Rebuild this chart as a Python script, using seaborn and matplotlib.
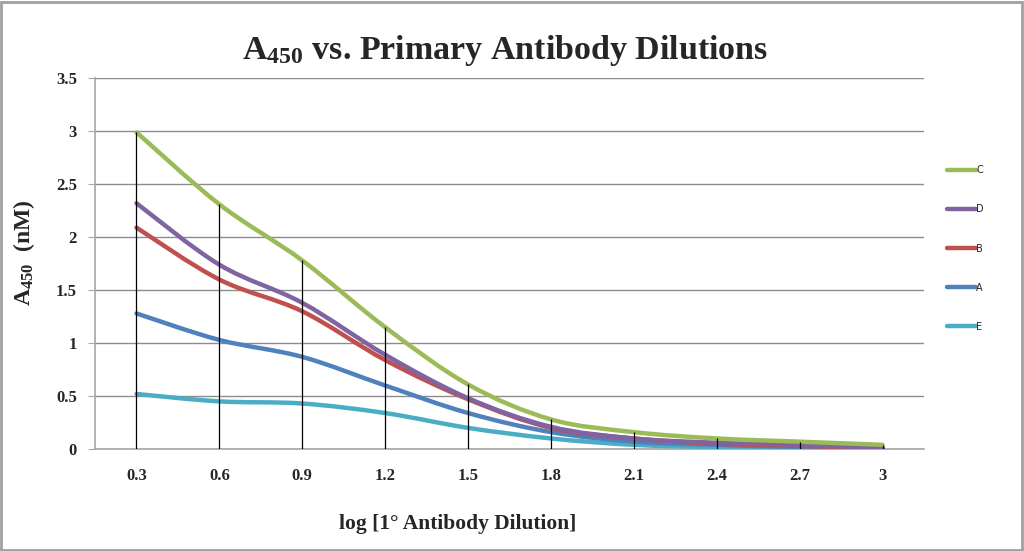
import matplotlib
matplotlib.use('Agg')
import matplotlib.pyplot as plt
import seaborn as sns
import numpy as np
from matplotlib.path import Path
from matplotlib.patches import PathPatch, Rectangle
from matplotlib.lines import Line2D

# data
dilutions = ['0.3', '0.6', '0.9', '1.2', '1.5', '1.8', '2.1', '2.4', '2.7', '3']
series_c = [2.99, 2.31, 1.78, 1.15, 0.61, 0.28, 0.16, 0.10, 0.07, 0.04]
series_d = [2.32, 1.74, 1.38, 0.89, 0.48, 0.21, 0.10, 0.06, 0.04, 0.01]
series_b = [2.09, 1.60, 1.30, 0.84, 0.47, 0.20, 0.10, 0.05, 0.03, 0.01]
series_a = [1.28, 1.03, 0.87, 0.60, 0.34, 0.16, 0.07, 0.04, 0.02, 0.01]
series_e = [0.52, 0.45, 0.43, 0.34, 0.20, 0.10, 0.04, 0.02, 0.02, 0.01]

series = {'C': series_c, 'D': series_d, 'B': series_b, 'A': series_a, 'E': series_e}
colors = {'C': '#9BBB59', 'D': '#8064A2', 'B': '#C0504D', 'A': '#4F81BD', 'E': '#4BACC6'}
draw_order = ['E', 'A', 'B', 'D', 'C']

sns.set_style('white')
plt.rcParams['font.family'] = ['Liberation Serif', 'DejaVu Serif']
plt.rcParams['mathtext.fontset'] = 'custom'
plt.rcParams['mathtext.rm'] = 'Liberation Serif:bold'
plt.rcParams['mathtext.it'] = 'Liberation Serif:bold'
plt.rcParams['mathtext.bf'] = 'Liberation Serif:bold'
plt.rcParams['mathtext.default'] = 'rm'

fig = plt.figure(figsize=(10.24, 5.51), dpi=100)
ax = fig.add_axes([0.0928, 0.185, 0.8096, 0.673])


def smooth_path(xs, ys):
    # Excel-style smoothed line as cubic bezier segments
    pts = np.column_stack([xs, ys]).astype(float)
    n = len(pts)
    verts = [pts[0]]
    codes = [Path.MOVETO]
    for i in range(n - 1):
        p0 = pts[max(i - 1, 0)]
        p1 = pts[i]
        p2 = pts[i + 1]
        p3 = pts[min(i + 2, n - 1)]
        c1 = p1 + (p2 - p0) / 6.0
        c2 = p2 - (p3 - p1) / 6.0
        verts += [c1, c2, p2]
        codes += [Path.CURVE4] * 3
    return Path(verts, codes)


xpos = np.arange(len(dilutions))
for name in draw_order:
    patch = PathPatch(smooth_path(xpos, series[name]), facecolor='none',
                      edgecolor=colors[name], lw=3.2, capstyle='round',
                      joinstyle='round', zorder=3)
    ax.add_patch(patch)

# drop lines from highest series to axis
tops = np.max(np.array([series[k] for k in series]), axis=0)
ax.vlines(xpos, 0, tops, colors='black', lw=0.9, zorder=4)

ax.set_xlim(-0.5, len(dilutions) - 0.5)
ax.set_ylim(0, 3.5)
ax.set_yticks(np.arange(0, 3.51, 0.5))
ax.set_yticklabels(['0', '0.5', '1', '1.5', '2', '2.5', '3', '3.5'])
ax.set_xticks(xpos)
ax.set_xticklabels(dilutions)
ax.yaxis.grid(True, color='#8C8C8C', lw=1.0)
ax.set_axisbelow(True)
for s in ['top', 'right']:
    ax.spines[s].set_visible(False)
for s in ['left', 'bottom']:
    ax.spines[s].set_color('#A6A6A6')
    ax.spines[s].set_linewidth(1.2)
ax.tick_params(axis='y', left=True, length=5, color='#A6A6A6', pad=8)
ax.tick_params(axis='x', bottom=False, pad=10)
for lab in ax.get_xticklabels() + ax.get_yticklabels():
    lab.set_fontweight('bold')
    lab.set_fontsize(12)

ax.set_title('A$_{450}$ vs. Primary Antibody Dilutions', fontsize=24.5,
             fontweight='bold', pad=14, x=0.495)
ax.set_xlabel('log [1° Antibody Dilution]', fontsize=15.5, fontweight='bold',
              labelpad=22, x=0.437)
ax.set_ylabel('A$_{450}$  (nM)', fontsize=17, fontweight='bold', labelpad=14, y=0.53)

handles = [Line2D([0], [0], color=colors[k], lw=3.2, solid_capstyle='round')
           for k in series]
leg = fig.legend(handles, list(series.keys()), loc='upper left',
                 bbox_to_anchor=(0.916, 0.716), frameon=False,
                 prop={'family': 'DejaVu Sans', 'size': 7},
                 handlelength=3.0, handletextpad=0.05, labelspacing=3.0)

fig.add_artist(Rectangle((0.001, 0.002), 0.997, 0.995, transform=fig.transFigure,
                         fill=False, edgecolor='#A0A0A0', lw=2))

fig.savefig('out.png', dpi=100)
